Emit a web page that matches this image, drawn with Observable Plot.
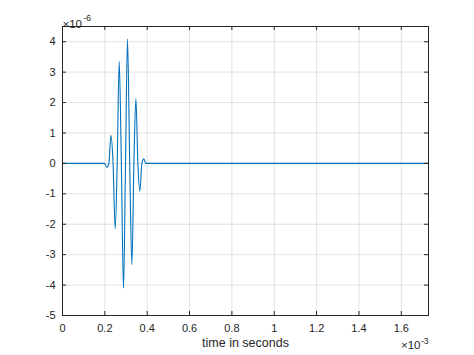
<!DOCTYPE html>
<html>
<head>
<meta charset="utf-8">
<script src="https://cdn.jsdelivr.net/npm/d3@7"></script>
<script src="https://cdn.jsdelivr.net/npm/@observablehq/plot@0.6"></script>
<style>
  html, body { margin: 0; padding: 0; background: #fff; }
  svg { display: block; }
</style>
</head>
<body>
<div id="chart"></div>
<script>
// time in units of 1e-3 s, amplitude in units of 1e-6
const timeMs = [0, 0.150, 0.185, 0.198, 0.2097, 0.2190, 0.2286, 0.2388, 0.2489, 0.2584, 0.2678, 0.2780, 0.2881, 0.2976, 0.3070, 0.3174, 0.3277, 0.3372, 0.3466, 0.3560, 0.3655, 0.3750, 0.3844, 0.3930, 0.405, 0.450, 1.7285];
const amplitude = [0, 0, 0, 0, -0.13, 0, 0.92, 0, -2.15, 0, 3.36, 0, -4.10, 0, 4.09, 0, -3.33, 0, 2.13, 0, -0.91, 0, 0.15, 0, 0, 0, 0];

const xTicks = [0, 0.2, 0.4, 0.6, 0.8, 1, 1.2, 1.4, 1.6];
const yTicks = [-5, -4, -3, -2, -1, 0, 1, 2, 3, 4];
const xDomain = [0, 1.7285];
const yDomain = [-5, 4.5];

const data = timeMs.map((t, i) => ({t, v: amplitude[i]}));

const W = 474, H = 355;
const mL = 62, mR = 46, mT = 26, mB = 40;
const innerH = H - mT - mB, innerW = W - mL - mR;
const ink = "#262626";
const font = "'Liberation Sans', Arial, Helvetica, sans-serif";

const chart = Plot.plot({
  width: W,
  height: H,
  marginLeft: mL,
  marginRight: mR,
  marginTop: mT,
  marginBottom: mB,
  style: {fontFamily: font, fontSize: "10px", color: ink, background: "#fff"},
  x: {domain: xDomain, ticks: xTicks},
  y: {domain: yDomain, ticks: yTicks},
  marks: [
    Plot.gridX(xTicks, {stroke: ink, strokeOpacity: 0.13}),
    Plot.gridY(yTicks, {stroke: ink, strokeOpacity: 0.13}),
    Plot.line(data, {x: "t", y: "v", stroke: "#0072BD", strokeWidth: 1.1, curve: "monotone-x"}),
    // inward ticks on all four sides
    Plot.ruleX(xTicks, {x: d => d, insetTop: innerH - 4, stroke: ink}),
    Plot.ruleX(xTicks, {x: d => d, insetBottom: innerH - 4, stroke: ink}),
    Plot.ruleY(yTicks, {y: d => d, insetRight: innerW - 4, stroke: ink}),
    Plot.ruleY(yTicks, {y: d => d, insetLeft: innerW - 4, stroke: ink}),
    Plot.frame({stroke: ink, strokeWidth: 1}),
    Plot.axisX(xTicks, {tickSize: 0, tickPadding: 9, fontSize: 11, fill: ink, tickFormat: d => String(d), label: null}),
    Plot.axisY(yTicks, {tickSize: 0, tickPadding: 7, fontSize: 11, fill: ink, tickFormat: d => String(d), label: null}),
    Plot.text(["time in seconds"], {frameAnchor: "bottom", dy: 31, fontSize: 12.5, fill: ink}),
    Plot.text(["\u00d710"], {frameAnchor: "bottom-right", dx: -8, dy: 33, textAnchor: "end", fontSize: 11.5, fill: ink}),
    Plot.text(["-3"], {frameAnchor: "bottom-right", dx: 0, dy: 28, textAnchor: "end", fontSize: 8.5, fill: ink}),
    Plot.text(["\u00d710"], {frameAnchor: "top-left", dx: 0, dy: -7, textAnchor: "start", fontSize: 11.5, fill: ink}),
    Plot.text(["-6"], {frameAnchor: "top-left", dx: 21, dy: -12, textAnchor: "start", fontSize: 8.5, fill: ink})
  ]
});
document.getElementById("chart").appendChild(chart);
</script>
</body>
</html>
